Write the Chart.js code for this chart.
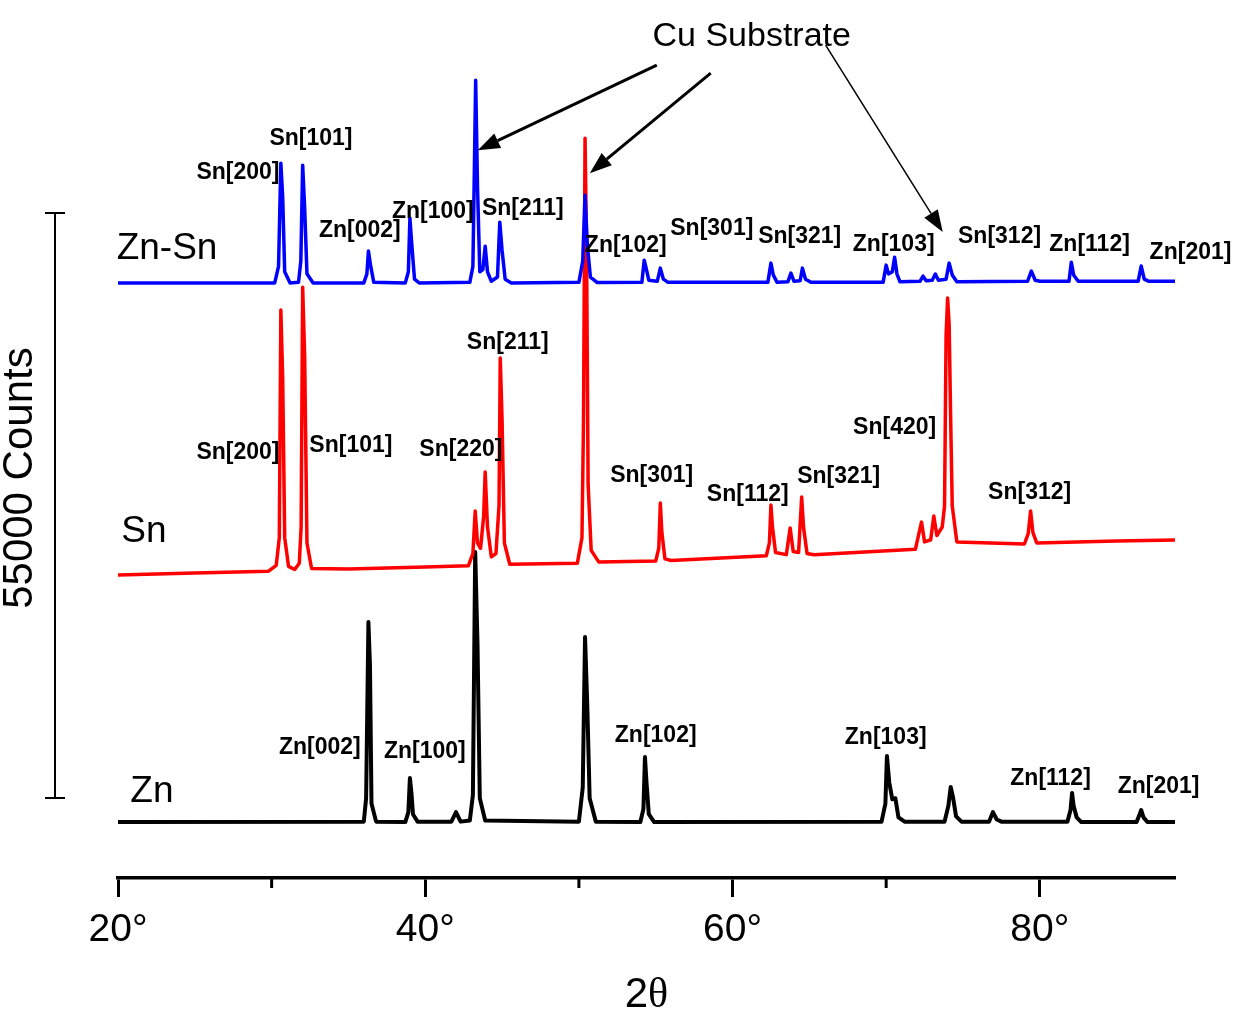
<!DOCTYPE html>
<html>
<head>
<meta charset="utf-8">
<script src="https://cdn.jsdelivr.net/npm/chart.js@4.4.0/dist/chart.umd.min.js"></script>
<style>
  html, body { margin: 0; padding: 0; background: #ffffff; }
  canvas { display: block; }
</style>
</head>
<body>
<canvas id="xrdChart" width="1241" height="1009"></canvas>
<script>
// 2theta (deg) and counts, each trace shifted by its offset
const znTheta = [20, 36.0, 36.15, 36.3, 36.4, 36.5, 36.8, 38.7, 38.9, 39.0, 39.1, 39.2, 39.5, 41.7, 42.0, 42.3, 42.9, 43.1, 43.25, 43.4, 43.55, 43.9, 50.0, 50.25, 50.4, 50.55, 50.7, 51.1, 54.0, 54.2, 54.3, 54.4, 54.55, 54.9, 69.7, 69.95, 70.05, 70.2, 70.4, 70.6, 70.8, 71.2, 73.8, 74.05, 74.2, 74.35, 74.55, 74.9, 76.7, 76.95, 77.2, 77.5, 81.8, 82.0, 82.1, 82.2, 82.4, 82.7, 86.3, 86.5, 86.6, 86.75, 87.0, 88.8];
const znCounts = [5260, 5300, 7500, 24060, 20000, 7000, 5300, 5260, 6200, 9400, 8000, 6000, 5300, 5300, 6200, 5300, 5400, 7800, 30640, 22000, 7500, 5400, 5300, 8500, 22650, 16000, 7500, 5300, 5260, 6500, 11370, 9000, 6000, 5260, 5300, 7000, 11470, 9000, 7400, 7500, 5700, 5300, 5300, 6800, 8550, 7600, 5800, 5300, 5300, 6200, 5500, 5300, 5300, 6400, 7990, 6800, 5700, 5260, 5260, 6000, 6390, 5700, 5260, 5260];

const snTheta = [20, 25, 29.8, 30.3, 30.5, 30.6, 30.72, 30.85, 31.1, 31.5, 31.8, 31.92, 32.02, 32.15, 32.3, 32.6, 35, 40, 42.8, 43.1, 43.25, 43.4, 43.6, 43.8, 43.9, 44.05, 44.3, 44.6, 44.8, 44.88, 45.0, 45.15, 45.5, 49.9, 50.2, 50.3, 50.4, 50.5, 50.6, 50.8, 51.3, 55.0, 55.2, 55.3, 55.4, 55.6, 56.0, 62.2, 62.4, 62.5, 62.6, 62.8, 63.5, 63.75, 63.95, 64.3, 64.5, 64.62, 64.85, 65.3, 71.9, 72.3, 72.5, 72.9, 73.1, 73.3, 73.65, 73.8, 73.9, 74.0, 74.1, 74.2, 74.3, 74.6, 79.0, 79.25, 79.4, 79.55, 79.8, 85, 88.8];
const snCounts = [5480, 5670, 5850, 6400, 9000, 30390, 24000, 9000, 6300, 6000, 6600, 10000, 32550, 26000, 8500, 6100, 6050, 6230, 6350, 7500, 11500, 8500, 8000, 11000, 15160, 10000, 7200, 7500, 12000, 25880, 20000, 8500, 6500, 6600, 9000, 20000, 46560, 36000, 14000, 7800, 6700, 6800, 8000, 12250, 9500, 7000, 6850, 7300, 8500, 12060, 10000, 7600, 7400, 9900, 7700, 7600, 12810, 10000, 7500, 7400, 7900, 10460, 8600, 8800, 11030, 9200, 10000, 12000, 28000, 31520, 29000, 20000, 12000, 8600, 8400, 9400, 11500, 9500, 8500, 8680, 8770];

const znsnTheta = [20, 30.2, 30.45, 30.6, 30.72, 30.85, 31.2, 31.75, 31.9, 32.02, 32.15, 32.3, 32.7, 36.0, 36.2, 36.3, 36.45, 36.65, 38.7, 38.9, 39.0, 39.1, 39.3, 39.6, 42.9, 43.1, 43.2, 43.28, 43.4, 43.55, 43.75, 43.9, 44.05, 44.3, 44.7, 44.85, 45.0, 45.2, 45.6, 50.0, 50.25, 50.4, 50.55, 50.75, 51.2, 54.1, 54.25, 54.35, 54.55, 55.1, 55.3, 55.5, 55.8, 62.3, 62.5, 62.65, 62.9, 63.6, 63.8, 64.0, 64.4, 64.55, 64.75, 65.1, 69.8, 70.0, 70.15, 70.4, 70.55, 70.7, 70.9, 72.2, 72.4, 72.6, 73.0, 73.2, 73.4, 73.9, 74.1, 74.3, 74.6, 79.2, 79.45, 79.7, 80.0, 81.9, 82.05, 82.2, 82.5, 86.4, 86.6, 86.8, 87.1, 88.8];
const znsnCounts = [5930, 5950, 7500, 17210, 14000, 7000, 5950, 6000, 8000, 17020, 13000, 6800, 5950, 5950, 6800, 8940, 7500, 6000, 5950, 7000, 12040, 10000, 6300, 5950, 6000, 7500, 17000, 25010, 15000, 7000, 7200, 9400, 7000, 6100, 6500, 11660, 9000, 6300, 5950, 6000, 8000, 14200, 9500, 6500, 5980, 6000, 8090, 7500, 6200, 6100, 7340, 6300, 6000, 6000, 7810, 6700, 6000, 6050, 6870, 6100, 6150, 7340, 6300, 6000, 6000, 7620, 6800, 7000, 8370, 6800, 6050, 6100, 6590, 6150, 6200, 6780, 6200, 6300, 7810, 6700, 6050, 6100, 7060, 6200, 6100, 6100, 7900, 6700, 6100, 6100, 7530, 6300, 6100, 6100];

const znOffset = 0;
const snOffset = 23000;
const znsnOffset = 50000;

const xMajorTicks = [20, 40, 60, 80];
const xMinorTicks = [30, 50, 70];

// scale bar: 55000 counts
const scaleBarFrom = 7520;
const scaleBarSize = 55000;
const scaleBarText = ["55000 Counts", 37600];

// [text, 2theta, counts]
const peakLabels = [
  ["Sn[200]", 27.81, 66270], ["Sn[101]", 32.56, 69466], ["Zn[002]", 35.74, 60818],
  ["Zn[100]", 40.49, 62604], ["Sn[211]", 46.35, 62886], ["Zn[102]", 53.05, 59408],
  ["Sn[301]", 58.65, 61006], ["Sn[321]", 64.37, 60254], ["Zn[103]", 70.49, 59502],
  ["Sn[312]", 77.38, 60254], ["Zn[112]", 83.24, 59502], ["Zn[201]", 89.81, 58750],
  ["Sn[211]", 45.37, 50290], ["Sn[200]", 27.81, 39950], ["Sn[101]", 35.16, 40608],
  ["Sn[220]", 42.32, 40232], ["Sn[420]", 70.55, 42300], ["Sn[301]", 54.74, 37788],
  ["Sn[112]", 60.99, 36002], ["Sn[321]", 66.91, 37694], ["Sn[312]", 79.34, 36190],
  ["Zn[002]", 33.14, 12220], ["Zn[100]", 39.97, 11844], ["Zn[102]", 55.0, 13348],
  ["Zn[103]", 69.97, 13160], ["Zn[112]", 80.7, 9306], ["Zn[201]", 87.73, 8554],
];
const traceLabels = [
  ["Zn-Sn", 23.19, 59126], ["Sn", 21.69, 32524], ["Zn", 22.21, 8084],
];
const noteText = ["Cu Substrate", 61.25, 79148];
// [from 2theta, from counts, to 2theta, to counts, width]
const noteArrows = [
  [55.07, 76422, 43.42, 68432, 3],
  [58.58, 75670, 50.71, 66270, 3],
  [66.06, 78302, 73.68, 60724, 1.5],
];

function toPoints(theta, counts, offset) {
  return theta.map((t, i) => ({ x: t, y: counts[i] + offset }));
}

function drawArrow(ctx, x1, y1, x2, y2, w) {
  const a = Math.atan2(y2 - y1, x2 - x1);
  const len = 22, half = 8;
  const bx = x2 - len * Math.cos(a), by = y2 - len * Math.sin(a);
  ctx.lineWidth = w;
  ctx.beginPath();
  ctx.moveTo(x1, y1);
  ctx.lineTo(bx, by);
  ctx.stroke();
  ctx.beginPath();
  ctx.moveTo(x2, y2);
  ctx.lineTo(bx + half * Math.sin(a), by - half * Math.cos(a));
  ctx.lineTo(bx - half * Math.sin(a), by + half * Math.cos(a));
  ctx.closePath();
  ctx.fill();
}

const overlayPlugin = {
  id: "overlay",
  afterDatasetsDraw(chart) {
    const { ctx, chartArea, scales: { x, y } } = chart;
    ctx.save();
    ctx.fillStyle = "#000";
    ctx.strokeStyle = "#000";

    // minor ticks on 2theta axis
    ctx.lineWidth = 3;
    xMinorTicks.forEach((v) => {
      const px = x.getPixelForValue(v);
      ctx.beginPath();
      ctx.moveTo(px, chartArea.bottom);
      ctx.lineTo(px, chartArea.bottom + 10);
      ctx.stroke();
    });

    // axis title, theta in a serif face like the original
    const midX = (chartArea.left + chartArea.right) / 2 + 0;
    ctx.textBaseline = "alphabetic";
    ctx.textAlign = "left";
    ctx.font = "42px 'Liberation Sans', Arial, sans-serif";
    const w2 = ctx.measureText("2").width;
    ctx.font = "42px 'Liberation Serif', 'Times New Roman', serif";
    const wt = ctx.measureText("θ").width;
    const startX = midX - (w2 + wt) / 2;
    ctx.font = "42px 'Liberation Sans', Arial, sans-serif";
    ctx.fillText("2", startX, chartArea.bottom + 129);
    ctx.font = "42px 'Liberation Serif', 'Times New Roman', serif";
    ctx.fillText("θ", startX + w2, chartArea.bottom + 129);

    // intensity scale bar
    const barX = 55;
    const yLow = y.getPixelForValue(scaleBarFrom);
    const yHigh = y.getPixelForValue(scaleBarFrom + scaleBarSize);
    ctx.lineWidth = 2;
    ctx.beginPath();
    ctx.moveTo(barX, yLow);
    ctx.lineTo(barX, yHigh);
    ctx.moveTo(barX - 10, yLow);
    ctx.lineTo(barX + 10, yLow);
    ctx.moveTo(barX - 10, yHigh);
    ctx.lineTo(barX + 10, yHigh);
    ctx.stroke();
    ctx.save();
    ctx.translate(20, y.getPixelForValue(scaleBarText[1]));
    ctx.rotate(-Math.PI / 2);
    ctx.font = "42px 'Liberation Sans', Arial, sans-serif";
    ctx.textAlign = "center";
    ctx.textBaseline = "middle";
    ctx.fillText(scaleBarText[0], 0, 0);
    ctx.restore();

    ctx.textAlign = "center";
    ctx.textBaseline = "middle";

    ctx.font = "bold 23px 'Liberation Sans', Arial, sans-serif";
    peakLabels.forEach(([t, tx, ty]) => {
      ctx.fillText(t, x.getPixelForValue(tx), y.getPixelForValue(ty));
    });

    ctx.font = "37px 'Liberation Sans', Arial, sans-serif";
    traceLabels.forEach(([t, tx, ty]) => {
      ctx.fillText(t, x.getPixelForValue(tx), y.getPixelForValue(ty));
    });

    ctx.font = "34px 'Liberation Sans', Arial, sans-serif";
    ctx.fillText(noteText[0], x.getPixelForValue(noteText[1]), y.getPixelForValue(noteText[2]));

    noteArrows.forEach(([x1, y1, x2, y2, w]) => {
      drawArrow(ctx, x.getPixelForValue(x1), y.getPixelForValue(y1),
        x.getPixelForValue(x2), y.getPixelForValue(y2), w);
    });
    ctx.restore();
  },
};

document.addEventListener("DOMContentLoaded", () => {
  var ctx = document.getElementById("xrdChart").getContext("2d");
  var xrdChart = new Chart(ctx, {
    type: "line",
    data: {
      datasets: [
        {
          label: "Zn-Sn",
          data: toPoints(znsnTheta, znsnCounts, znsnOffset),
          borderColor: "#0000ff",
        },
        {
          label: "Sn",
          data: toPoints(snTheta, snCounts, snOffset),
          borderColor: "#ff0000",
        },
        {
          label: "Zn",
          data: toPoints(znTheta, znCounts, znOffset),
          borderColor: "#000000",
          borderWidth: 4,
        },
      ],
    },
    options: {
      responsive: false,
      animation: false,
      devicePixelRatio: 1,
      layout: { padding: { left: 118, right: 66, top: 59, bottom: 0 } },
      elements: {
        point: { radius: 0 },
        line: { borderWidth: 3.5, tension: 0, borderJoinStyle: "round", fill: false },
      },
      plugins: {
        legend: { display: false },
        tooltip: { enabled: false },
      },
      scales: {
        x: {
          type: "linear",
          min: 20,
          max: 88.8,
          afterBuildTicks: (scale) => {
            scale.ticks = xMajorTicks.map((v) => ({ value: v }));
          },
          afterFit: (scale) => {
            scale.height = 131;
          },
          border: { display: true, color: "#000", width: 3.5 },
          grid: {
            drawOnChartArea: false,
            tickLength: 19,
            tickWidth: 3,
            tickColor: "#000",
          },
          ticks: {
            autoSkip: false,
            maxRotation: 0,
            padding: 10,
            color: "#000",
            font: { family: "'Liberation Sans', Arial", size: 39 },
            callback: (v) => v + "°",
          },
          title: { display: false },
        },
        y: {
          display: false,
          min: 0,
          max: 77000,
        },
      },
    },
    plugins: [overlayPlugin],
  });
});
</script>
</body>
</html>
